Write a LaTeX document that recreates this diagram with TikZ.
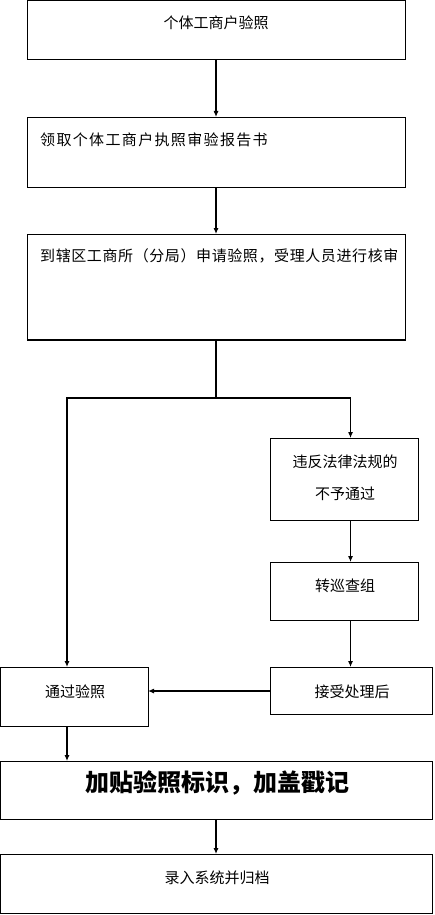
\documentclass[tikz,border=0pt]{standalone}
\usepackage{fontspec}
\newfontfamily\cjk{Noto Sans CJK SC}
\usetikzlibrary{arrows.meta,calc}
\begin{document}
\begin{tikzpicture}[x=1pt,y=-1pt,
  box/.style={draw, line width=0.8pt, inner sep=0pt, outer sep=0pt, anchor=north west},
  txt/.style={font=\cjk\fontsize{15}{15}\selectfont, inner sep=0pt},
  arr/.style={-{Latex[length=6pt,width=5pt]}, line width=1.1pt},
  ln/.style={line width=1.1pt}]
\useasboundingbox (0,0) rectangle (434,915);
% boxes
\node[box, minimum width=378pt, minimum height=59pt] (b1) at (27,0.5) {};
\node[box, minimum width=378pt, minimum height=70pt] (b2) at (27,117) {};
\node[box, minimum width=378pt, minimum height=106pt] (b3) at (27,234) {};
\node[box, minimum width=148pt, minimum height=82pt] (b4) at (270,438) {};
\node[box, minimum width=148pt, minimum height=58pt] (b5) at (270,562) {};
\node[box, minimum width=162pt, minimum height=47pt] (b6) at (270,667) {};
\node[box, minimum width=147.5pt, minimum height=59pt] (b7) at (0.5,667) {};
\node[box, minimum width=431.5pt, minimum height=58pt] (b8) at (0.5,761) {};
\node[box, minimum width=431.5pt, minimum height=59pt] (b9) at (0.5,854) {};
\draw[line width=1.8pt] (b3.south west) -- (b3.south east);
% texts
\node[txt] (t1) at (216,23) {个体工商户验照};
\node[txt, anchor=west] (t2) at (40,140) {\addfontfeature{LetterSpace=9}领取个体工商户执照审验报告书};
\node[txt, anchor=west] (t3) at (40,256) {\addfontfeature{LetterSpace=4}到辖区工商所（分局）申请验照，受理人员进行核审};
\node[txt] (t4a) at (345,462) {违反法律法规的};
\node[txt] (t4b) at (345,494) {不予通过};
\node[txt] (t5) at (345,586) {转巡查组};
\node[txt] (t6) at (352,692) {接受处理后};
\node[txt] (t7) at (75,692) {通过验照};
\node[txt, font=\cjk\bfseries\fontsize{24}{24}\selectfont] (t8) at (217,783) {加贴验照标识，加盖戳记};
\node[txt] (t9) at (217,878) {录入系统并归档};
% junction coordinates
\coordinate (j) at (216,398);
\coordinate (jl) at (67,398);
\coordinate (jr) at (350.5,398);
% connectors
\draw[arr] (b1.south) -- (b2.north);
\draw[arr] (b2.south) -- (b3.north);
\draw[ln] (b3.south) -- (j);
\draw[arr] (j) -- (jl) -- (jl |- b7.north);
\draw[arr] (j) -- (jr) -- (jr |- b4.north);
\draw[arr] (jr |- b4.south) -- (jr |- b5.north);
\draw[arr] (jr |- b5.south) -- (jr |- b6.north);
\draw[arr] ($(b6.west)+(0,0.5)$) -- ($(b6.west -| b7.east)+(0,0.5)$);
\draw[arr] (jl |- b7.south) -- (jl |- b8.north);
\draw[arr] (b8.south -| b1.south) -- (b9.north -| b1.south);
\end{tikzpicture}
\end{document}
